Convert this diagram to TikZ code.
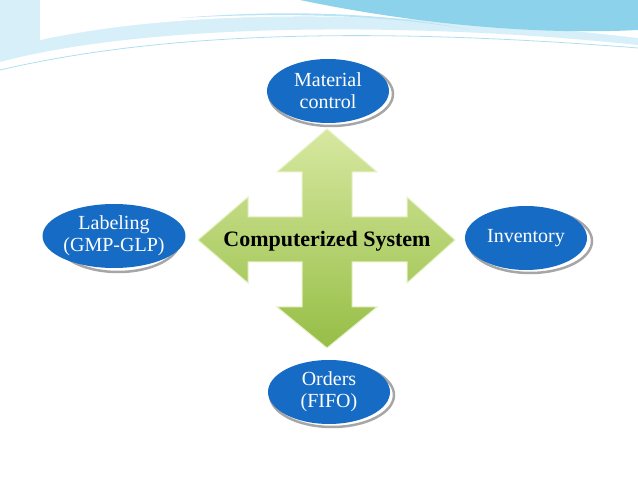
\documentclass[tikz,border=0pt]{standalone}
\usepackage{fontspec}
\setmainfont{Liberation Serif}
\usetikzlibrary{shapes,positioning}

\definecolor{blob}{RGB}{22,108,196}
\definecolor{leaf}{RGB}{150,190,70}
\definecolor{leaflight}{RGB}{215,232,160}
\definecolor{sky}{RGB}{140,210,235}

\tikzset{
  topic/.style={ellipse, fill=blob, text=white, minimum width=122pt, minimum height=64pt,
    inner sep=0pt, align=center, font=\fontsize{20}{22}\selectfont},
  rim/.style={ellipse, draw=gray!70, line width=2.5pt, minimum width=124pt, minimum height=64pt}
}

\begin{document}
\begin{tikzpicture}[x=1pt,y=-1pt]
        \useasboundingbox (0,0) rectangle (638,478);

        % wave on top
        \fill[sky!35] (0,62) .. controls (150,22) and (420,22) .. (638,45) -- (638,0) -- (0,0) -- cycle;
        \fill[white] (40,40) .. controls (180,10) and (380,8) .. (638,38) -- (638,0) -- (40,0) -- cycle;
        \fill[sky] (300,0) .. controls (420,25) and (540,35) .. (638,30) -- (638,0) -- cycle;
        \fill[sky!60] (180,18) .. controls (320,10) and (420,20) .. (470,30) .. controls (400,15) and (300,8) .. (180,18) -- cycle;
        \draw[sky!70, line width=0.8pt] (0,70) .. controls (150,35) and (350,25) .. (638,48);

        % four way arrow
        \shade[top color=leaflight, bottom color=leaf, draw=leaflight!60!white, line width=1pt]
          (327,129) -- (377,172) -- (352,172) -- (352,217) -- (407,217) -- (407,197)
          -- (455,240) -- (407,283) -- (407,262) -- (352,262) -- (352,307) -- (377,307)
          -- (327,348) -- (277,307) -- (302,307) -- (302,262) -- (248,262) -- (248,283)
          -- (198,240) -- (248,197) -- (248,217) -- (302,217) -- (302,172) -- (277,172) -- cycle;
        \node[font=\fontsize{22}{24}\selectfont\bfseries] (hub) at (327,241) {Computerized System};

        % shadows
        \node[rim] (s1) at (331,94) {};
        \node[rim] (s2) at (118,240) {};
        \node[rim] (s3) at (530,241) {};
        \node[rim] (s4) at (332,395) {};

        \node[topic] (mat) at (328,91) {Material\\control};
        \node[topic] (lab) at (114,236) {Labeling\\(GMP-GLP)};
        \node[topic] (inv) at (526,238) {Inventory};
        \node[topic] (ord) at (329,392) {Orders\\(FIFO)};
\end{tikzpicture}
\end{document}
